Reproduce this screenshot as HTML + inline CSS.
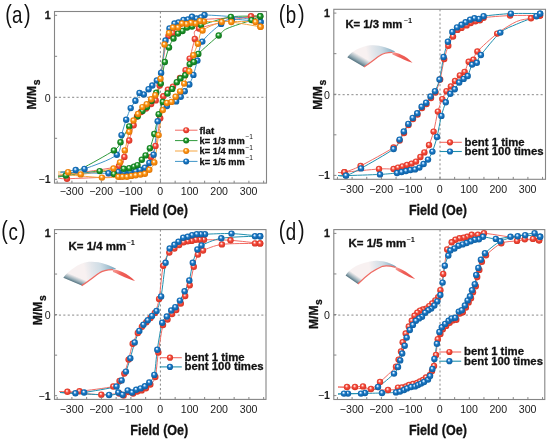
<!DOCTYPE html><html><head><meta charset="utf-8"><style>html,body{margin:0;padding:0;background:#fff;width:550px;height:441px;overflow:hidden}svg{display:block;filter:blur(0.5px)}text{font-family:"Liberation Sans", sans-serif}text[font-weight=bold],g[font-weight=bold] text{stroke:#111;stroke-width:0.3px}</style></head><body>
<svg width="550" height="441" viewBox="0 0 550 441">
<defs>
<radialGradient id="g_red" cx="0.5" cy="0.5" r="0.55" fx="0.4" fy="0.32"><stop offset="0" stop-color="#ffffff"/><stop offset="0.16" stop-color="#ffc8c0"/><stop offset="0.45" stop-color="#f64a3c"/><stop offset="1" stop-color="#d0301f"/></radialGradient>
<radialGradient id="g_green" cx="0.5" cy="0.5" r="0.55" fx="0.4" fy="0.32"><stop offset="0" stop-color="#ffffff"/><stop offset="0.16" stop-color="#c8f0c8"/><stop offset="0.45" stop-color="#1f9a2c"/><stop offset="1" stop-color="#0c6a18"/></radialGradient>
<radialGradient id="g_orange" cx="0.5" cy="0.5" r="0.55" fx="0.4" fy="0.32"><stop offset="0" stop-color="#ffffff"/><stop offset="0.16" stop-color="#ffe8b8"/><stop offset="0.45" stop-color="#ff9414"/><stop offset="1" stop-color="#d86e00"/></radialGradient>
<radialGradient id="g_blue" cx="0.5" cy="0.5" r="0.55" fx="0.4" fy="0.32"><stop offset="0" stop-color="#ffffff"/><stop offset="0.16" stop-color="#bfe0ff"/><stop offset="0.45" stop-color="#1a78c4"/><stop offset="1" stop-color="#0b5a9c"/></radialGradient>
<radialGradient id="g_teal" cx="0.5" cy="0.5" r="0.55" fx="0.4" fy="0.32"><stop offset="0" stop-color="#ffffff"/><stop offset="0.16" stop-color="#bfe0ff"/><stop offset="0.45" stop-color="#1a78c4"/><stop offset="1" stop-color="#0b5a9c"/></radialGradient>
<linearGradient id="rib_top" gradientUnits="userSpaceOnUse" x1="8.6" y1="17" x2="12.6" y2="10.1"><stop offset="0" stop-color="#557380"/><stop offset="0.35" stop-color="#93aab4"/><stop offset="1" stop-color="#f8f1f1"/></linearGradient><linearGradient id="rib_blue" gradientUnits="userSpaceOnUse" x1="20" y1="10" x2="46" y2="5"><stop offset="0" stop-color="#a9c9da" stop-opacity="0"/><stop offset="0.55" stop-color="#b5d0de" stop-opacity="0.6"/><stop offset="1" stop-color="#7fabc2" stop-opacity="1"/></linearGradient>
<linearGradient id="rib_red" gradientUnits="userSpaceOnUse" x1="45" y1="7" x2="65" y2="17"><stop offset="0" stop-color="#f7a39c"/><stop offset="0.4" stop-color="#ef5f58"/><stop offset="1" stop-color="#e9504a"/></linearGradient>
<linearGradient id="rib_top_d" gradientUnits="userSpaceOnUse" x1="6.25" y1="19.25" x2="9.9" y2="14"><stop offset="0" stop-color="#557380"/><stop offset="0.35" stop-color="#93aab4"/><stop offset="1" stop-color="#f8f1f1"/></linearGradient><linearGradient id="rib_blue_d" gradientUnits="userSpaceOnUse" x1="24" y1="8" x2="48" y2="4"><stop offset="0" stop-color="#a9c9da" stop-opacity="0"/><stop offset="0.55" stop-color="#b5d0de" stop-opacity="0.6"/><stop offset="1" stop-color="#7fabc2" stop-opacity="1"/></linearGradient><linearGradient id="rib_red_d" gradientUnits="userSpaceOnUse" x1="50" y1="6" x2="70" y2="18"><stop offset="0" stop-color="#f7a39c"/><stop offset="0.4" stop-color="#ef5f58"/><stop offset="1" stop-color="#e9504a"/></linearGradient>
<linearGradient id="rib_top_c" gradientUnits="userSpaceOnUse" x1="8.65" y1="18.35" x2="10.9" y2="13"><stop offset="0" stop-color="#557380"/><stop offset="0.35" stop-color="#93aab4"/><stop offset="1" stop-color="#f8f1f1"/></linearGradient>
</defs>
<rect width="550" height="441" fill="#fff"/>
<line x1="54.5" y1="97.3" x2="266.5" y2="97.3" stroke="#7c7c7c" stroke-width="0.9" stroke-dasharray="2.1,2.3"/>
<line x1="160.4" y1="11.5" x2="160.4" y2="183.1" stroke="#7c7c7c" stroke-width="0.9" stroke-dasharray="2.1,2.3"/>
<path d="M58,178 C59.35,178.1 59.2,178.85 67,178.7 C74.8,178.55 102.05,177.33 110,177 C117.95,176.67 117,176.72 120,176.5 C123,176.28 127,175.95 130,175.5 C133,175.05 137.6,174.62 140,173.5 C142.4,172.38 144.35,170.49 146,168 C147.65,165.51 149.57,160.2 151,156.9 C152.43,153.6 154.12,151.79 155.5,146 C156.88,140.21 159.03,125.75 160.2,118.3 C161.37,110.84 162.15,100.59 163.3,96.3 C164.46,92.01 166.44,91.16 167.9,89.7 C169.36,88.25 171.19,88.35 173,86.6 C174.81,84.84 178.11,80.46 180,78 C181.89,75.54 184.14,73.11 185.6,70.2 C187.06,67.29 188.32,63.28 189.7,58.6 C191.08,53.92 193.41,43.52 194.8,39 C196.2,34.48 190.57,31.91 199,28.5 C207.43,25.09 241.85,18.03 251,16.3 C260.15,14.58 258.65,16.89 260,17" fill="none" stroke="#f26b63" stroke-width="1.0"/>
<path d="M260,17 C255.5,17.15 240.5,17.48 230,18 C219.5,18.52 197.5,19.6 190,20.5 C182.5,21.4 182.55,22.12 180,24 C177.45,25.88 174.72,31.2 173,33 C171.28,34.8 169.85,32.7 168.5,36 C167.15,39.3 165.32,47.56 164,55 C162.68,62.44 160.94,78.79 159.7,85.6 C158.45,92.41 156.99,97.64 155.7,100.4 C154.41,103.16 152.56,102.78 151.1,104 C149.64,105.22 147.51,107.3 146,108.5 C144.49,109.7 142.35,110.8 141,112 C139.65,113.2 138.11,114.5 137,116.5 C135.89,118.5 134.77,121.7 133.6,125.3 C132.43,128.9 130.58,135.76 129.2,140.5 C127.82,145.24 125.93,153.08 124.4,156.9 C122.87,160.72 124.91,163.74 119,166 C113.09,168.26 94.15,170.5 85,172 C75.85,173.5 62.05,175.4 58,176" fill="none" stroke="#f26b63" stroke-width="1.0"/>
<path d="M58,177 C64.25,176.12 91.31,171.55 99.7,171.1 C108.09,170.65 110.3,174.34 113.9,174 C117.5,173.66 121.41,169.67 123.7,168.8 C126,167.93 127.65,168.53 129.2,168.2 C130.74,167.87 132.75,167.06 134,166.6 C135.25,166.13 136.33,166.13 137.5,165.1 C138.67,164.06 140.59,161.15 141.8,159.7 C143.02,158.25 144.38,157.12 145.6,155.4 C146.81,153.68 148.59,151.41 149.9,148.2 C151.21,144.99 152.98,139.1 154.3,134 C155.62,128.9 157.42,119.02 158.7,114.2 C159.97,109.39 161.48,105.01 162.8,101.9 C164.12,98.8 166.09,95.45 167.5,93.5 C168.91,91.55 170.8,90.59 172.2,88.9 C173.59,87.21 175.56,83.78 176.8,82.2 C178.05,80.62 179.24,79.44 180.5,78.4 C181.76,77.37 183.82,77.44 185.2,75.3 C186.58,73.16 188.41,66.09 189.7,64.1 C190.99,62.1 192.51,63.53 193.8,62 C195.09,60.47 194.57,57.88 198.3,53.9 C202.03,49.92 214.39,39.3 218.7,35.5 C223,31.71 222.06,30.91 227,28.6 C231.94,26.29 246.62,21.95 251.6,20.1 C256.58,18.26 258.91,16.87 260.2,16.3" fill="none" stroke="#2f9a3c" stroke-width="1.0"/>
<path d="M260.2,16.3 C255.8,16.39 239.78,15.59 230.9,16.9 C222.02,18.2 206.84,23.56 201,25 C195.16,26.44 194.1,26.12 192,26.5 C189.9,26.88 188.43,26.82 187,27.5 C185.57,28.18 183.85,30.1 182.5,31 C181.15,31.9 179.35,32.38 178,33.5 C176.65,34.62 174.85,36.4 173.5,38.5 C172.15,40.6 170.31,43.98 169,47.5 C167.69,51.02 166.03,56.59 164.8,62 C163.57,67.41 162.09,78.98 160.8,83.6 C159.51,88.22 157.59,90.19 156.2,92.8 C154.8,95.41 152.88,98.87 151.5,101 C150.12,103.13 148.35,105.5 147,107 C145.65,108.5 143.9,109.61 142.5,111 C141.1,112.39 139.69,113.99 137.7,116.3 C135.7,118.61 131.78,122.5 129.2,126.4 C126.62,130.3 122.8,138.7 120.5,142.3 C118.2,145.9 119.8,146.41 113.9,150.4 C108.01,154.39 88.4,165.14 81.2,168.9 C74,172.66 69.38,174.44 65.9,175.5 C62.42,176.56 59.19,175.93 58,176" fill="none" stroke="#2f9a3c" stroke-width="1.0"/>
<path d="M58,174 C64.59,174.54 92.86,177.18 101.9,177.6 C110.95,178.02 115.19,176.92 118.3,176.8 C121.41,176.68 121.29,176.8 122.6,176.8 C123.91,176.8 125.68,176.94 127,176.8 C128.32,176.67 130.09,176.12 131.4,175.9 C132.71,175.68 134.33,175.5 135.7,175.3 C137.06,175.11 139.12,174.84 140.5,174.6 C141.88,174.36 143.58,174.42 144.9,173.7 C146.22,172.98 147.89,171.5 149.3,169.8 C150.71,168.11 152.91,167.61 154.3,162.4 C155.7,157.19 157.32,142.94 158.6,135.1 C159.88,127.25 161.56,114.91 162.8,110.1 C164.05,105.28 165.59,104.23 166.9,103 C168.21,101.77 170.19,102.83 171.5,101.9 C172.81,100.97 174.31,98.38 175.6,96.8 C176.89,95.22 178.81,93.38 180.1,91.4 C181.39,89.42 182.82,86.63 184.2,83.6 C185.58,80.57 187.92,75.45 189.3,71.2 C190.68,66.95 192.11,59.42 193.4,55.3 C194.69,51.17 196.53,47.42 197.9,43.7 C199.27,39.98 198.93,33.76 202.5,30.5 C206.07,27.25 217.38,23.27 221.7,22 C226.02,20.73 225.48,21.28 231.3,22 C237.12,22.72 256.12,26.08 260.5,26.8" fill="none" stroke="#f5a540" stroke-width="1.0"/>
<path d="M260.5,26.8 C259.75,26.08 263.98,22.8 255.5,22 C247.03,21.2 212.32,21.65 204,21.5 C195.68,21.35 201.28,20.7 200,21 C198.72,21.3 196.85,23.23 195.5,23.5 C194.15,23.77 192.35,22.73 191,22.8 C189.65,22.88 187.85,23.89 186.5,24 C185.15,24.11 183.28,22.98 182,23.5 C180.72,24.02 179.35,26.9 178,27.5 C176.65,28.1 174.35,26.68 173,27.5 C171.65,28.32 170.28,30.45 169,33 C167.72,35.55 165.78,37.64 164.5,44.5 C163.22,51.36 161.88,71.09 160.5,78.7 C159.12,86.31 156.71,92.11 155.3,95.2 C153.89,98.29 152.39,97.95 151.1,99.3 C149.81,100.65 148,103.03 146.7,104.2 C145.39,105.37 143.71,105.63 142.4,107.1 C141.09,108.57 139.34,111.99 138,114 C136.66,116.01 134.82,117.83 133.5,120.5 C132.18,123.17 130.5,127.32 129.2,131.8 C127.89,136.29 126.18,145.81 124.8,150.4 C123.42,154.99 121.69,159.69 120,162.4 C118.31,165.12 119.39,166.7 113.5,168.5 C107.61,170.3 87.51,173.84 80.7,174.4 C73.89,174.96 71.5,172.56 68.1,172.2 C64.69,171.84 59.52,172.03 58,172" fill="none" stroke="#f5a540" stroke-width="1.0"/>
<path d="M60.5,172.2 C67.7,172.36 99.83,173.33 108.5,173.3 C117.17,173.27 115.97,172.19 118.3,172 C120.62,171.81 122.25,172.05 124,172 C125.75,171.95 128.25,171.85 130,171.7 C131.75,171.55 134.19,171.28 135.7,171 C137.21,170.72 138.72,170.3 140.1,169.8 C141.48,169.31 143.52,168.73 144.9,167.7 C146.28,166.66 148,164.85 149.3,162.9 C150.61,160.95 152.34,160.94 153.6,154.7 C154.86,148.46 156.51,128 157.7,121.3 C158.88,114.59 160.12,112.3 161.5,110 C162.88,107.7 164.71,107.29 166.9,106 C169.09,104.71 174.03,102.78 176.1,101.4 C178.17,100.02 179.41,98.33 180.7,96.8 C181.99,95.27 183.41,93.05 184.7,91.2 C185.99,89.36 188,86.94 189.3,84.5 C190.61,82.06 192.19,78.48 193.4,74.9 C194.62,71.32 196.06,65.59 197.4,60.6 C198.74,55.61 198.75,47.11 202.3,41.6 C205.86,36.09 216.66,27.26 221.1,23.9 C225.54,20.54 225.99,19.48 231.9,19.2 C237.81,18.91 256.21,21.58 260.5,22" fill="none" stroke="#3f95c8" stroke-width="1.0"/>
<path d="M260.5,22 C257.43,21.32 248.4,18.55 240,17.5 C231.6,16.45 210.35,15 204.5,15 C198.65,15 202.2,16.98 201,17.5 C199.8,18.02 197.85,18.61 196.5,18.5 C195.15,18.39 193.28,16.65 192,16.8 C190.72,16.95 189.28,19.02 188,19.5 C186.72,19.98 184.93,19.55 183.5,20 C182.07,20.45 179.85,21.98 178.5,22.5 C177.15,23.02 175.85,22.6 174.5,23.5 C173.15,24.4 170.85,25.95 169.5,28.5 C168.15,31.05 166.76,33.84 165.5,40.5 C164.24,47.16 162.39,66.9 161.1,72.9 C159.81,78.9 158.22,78.61 156.9,80.5 C155.58,82.39 153.55,84.19 152.3,85.5 C151.06,86.81 149.88,87.87 148.6,89.2 C147.32,90.53 145.17,93.83 143.8,94.4 C142.44,94.97 140.76,92.04 139.5,93 C138.24,93.96 136.72,98.53 135.4,100.8 C134.08,103.06 132.08,105.26 130.7,108.1 C129.32,110.94 127.58,115.65 126.2,119.7 C124.82,123.75 122.91,129.85 121.5,135.1 C120.09,140.35 122.35,149.63 116.8,154.7 C111.25,159.77 90.66,166.61 84.5,168.9 C78.34,171.19 79.3,169.5 75.7,170 C72.1,170.5 62.78,171.87 60.5,172.2" fill="none" stroke="#3f95c8" stroke-width="1.0"/>
<circle cx="67" cy="178.7" r="3.2" fill="url(#g_red)"/>
<circle cx="120" cy="176.5" r="3.2" fill="url(#g_red)"/>
<circle cx="130" cy="175.5" r="3.2" fill="url(#g_red)"/>
<circle cx="140" cy="173.5" r="3.2" fill="url(#g_red)"/>
<circle cx="146" cy="168" r="3.2" fill="url(#g_red)"/>
<circle cx="151" cy="156.9" r="3.2" fill="url(#g_red)"/>
<circle cx="155.5" cy="146" r="3.2" fill="url(#g_red)"/>
<circle cx="160.2" cy="118.3" r="3.2" fill="url(#g_red)"/>
<circle cx="163.3" cy="96.3" r="3.2" fill="url(#g_red)"/>
<circle cx="167.9" cy="89.7" r="3.2" fill="url(#g_red)"/>
<circle cx="173" cy="86.6" r="3.2" fill="url(#g_red)"/>
<circle cx="180" cy="78" r="3.2" fill="url(#g_red)"/>
<circle cx="185.6" cy="70.2" r="3.2" fill="url(#g_red)"/>
<circle cx="189.7" cy="58.6" r="3.2" fill="url(#g_red)"/>
<circle cx="194.8" cy="39" r="3.2" fill="url(#g_red)"/>
<circle cx="199" cy="28.5" r="3.2" fill="url(#g_red)"/>
<circle cx="251" cy="16.3" r="3.2" fill="url(#g_red)"/>
<circle cx="190" cy="20.5" r="3.2" fill="url(#g_red)"/>
<circle cx="180" cy="24" r="3.2" fill="url(#g_red)"/>
<circle cx="173" cy="33" r="3.2" fill="url(#g_red)"/>
<circle cx="168.5" cy="36" r="3.2" fill="url(#g_red)"/>
<circle cx="159.7" cy="85.6" r="3.2" fill="url(#g_red)"/>
<circle cx="155.7" cy="100.4" r="3.2" fill="url(#g_red)"/>
<circle cx="151.1" cy="104" r="3.2" fill="url(#g_red)"/>
<circle cx="146" cy="108.5" r="3.2" fill="url(#g_red)"/>
<circle cx="141" cy="112" r="3.2" fill="url(#g_red)"/>
<circle cx="137" cy="116.5" r="3.2" fill="url(#g_red)"/>
<circle cx="133.6" cy="125.3" r="3.2" fill="url(#g_red)"/>
<circle cx="129.2" cy="140.5" r="3.2" fill="url(#g_red)"/>
<circle cx="124.4" cy="156.9" r="3.2" fill="url(#g_red)"/>
<circle cx="119" cy="166" r="3.2" fill="url(#g_red)"/>
<circle cx="108.5" cy="173.3" r="3.2" fill="url(#g_blue)"/>
<circle cx="118.3" cy="172" r="3.2" fill="url(#g_blue)"/>
<circle cx="124" cy="172" r="3.2" fill="url(#g_blue)"/>
<circle cx="130" cy="171.7" r="3.2" fill="url(#g_blue)"/>
<circle cx="135.7" cy="171" r="3.2" fill="url(#g_blue)"/>
<circle cx="140.1" cy="169.8" r="3.2" fill="url(#g_blue)"/>
<circle cx="144.9" cy="167.7" r="3.2" fill="url(#g_blue)"/>
<circle cx="149.3" cy="162.9" r="3.2" fill="url(#g_blue)"/>
<circle cx="153.6" cy="154.7" r="3.2" fill="url(#g_blue)"/>
<circle cx="157.7" cy="121.3" r="3.2" fill="url(#g_blue)"/>
<circle cx="166.9" cy="106" r="3.2" fill="url(#g_blue)"/>
<circle cx="176.1" cy="101.4" r="3.2" fill="url(#g_blue)"/>
<circle cx="180.7" cy="96.8" r="3.2" fill="url(#g_blue)"/>
<circle cx="184.7" cy="91.2" r="3.2" fill="url(#g_blue)"/>
<circle cx="189.3" cy="84.5" r="3.2" fill="url(#g_blue)"/>
<circle cx="193.4" cy="74.9" r="3.2" fill="url(#g_blue)"/>
<circle cx="197.4" cy="60.6" r="3.2" fill="url(#g_blue)"/>
<circle cx="202.3" cy="41.6" r="3.2" fill="url(#g_blue)"/>
<circle cx="221.1" cy="23.9" r="3.2" fill="url(#g_blue)"/>
<circle cx="231.9" cy="19.2" r="3.2" fill="url(#g_blue)"/>
<circle cx="260.5" cy="22" r="3.2" fill="url(#g_blue)"/>
<circle cx="260.5" cy="22" r="3.2" fill="url(#g_blue)"/>
<circle cx="204.5" cy="15" r="3.2" fill="url(#g_blue)"/>
<circle cx="201" cy="17.5" r="3.2" fill="url(#g_blue)"/>
<circle cx="196.5" cy="18.5" r="3.2" fill="url(#g_blue)"/>
<circle cx="192" cy="16.8" r="3.2" fill="url(#g_blue)"/>
<circle cx="188" cy="19.5" r="3.2" fill="url(#g_blue)"/>
<circle cx="183.5" cy="20" r="3.2" fill="url(#g_blue)"/>
<circle cx="178.5" cy="22.5" r="3.2" fill="url(#g_blue)"/>
<circle cx="174.5" cy="23.5" r="3.2" fill="url(#g_blue)"/>
<circle cx="169.5" cy="28.5" r="3.2" fill="url(#g_blue)"/>
<circle cx="165.5" cy="40.5" r="3.2" fill="url(#g_blue)"/>
<circle cx="161.1" cy="72.9" r="3.2" fill="url(#g_blue)"/>
<circle cx="156.9" cy="80.5" r="3.2" fill="url(#g_blue)"/>
<circle cx="152.3" cy="85.5" r="3.2" fill="url(#g_blue)"/>
<circle cx="148.6" cy="89.2" r="3.2" fill="url(#g_blue)"/>
<circle cx="143.8" cy="94.4" r="3.2" fill="url(#g_blue)"/>
<circle cx="139.5" cy="93" r="3.2" fill="url(#g_blue)"/>
<circle cx="135.4" cy="100.8" r="3.2" fill="url(#g_blue)"/>
<circle cx="130.7" cy="108.1" r="3.2" fill="url(#g_blue)"/>
<circle cx="126.2" cy="119.7" r="3.2" fill="url(#g_blue)"/>
<circle cx="121.5" cy="135.1" r="3.2" fill="url(#g_blue)"/>
<circle cx="116.8" cy="154.7" r="3.2" fill="url(#g_blue)"/>
<circle cx="84.5" cy="168.9" r="3.2" fill="url(#g_blue)"/>
<circle cx="75.7" cy="170" r="3.2" fill="url(#g_blue)"/>
<circle cx="99.7" cy="171.1" r="3.2" fill="url(#g_green)"/>
<circle cx="113.9" cy="174" r="3.2" fill="url(#g_green)"/>
<circle cx="123.7" cy="168.8" r="3.2" fill="url(#g_green)"/>
<circle cx="129.2" cy="168.2" r="3.2" fill="url(#g_green)"/>
<circle cx="134" cy="166.6" r="3.2" fill="url(#g_green)"/>
<circle cx="137.5" cy="165.1" r="3.2" fill="url(#g_green)"/>
<circle cx="141.8" cy="159.7" r="3.2" fill="url(#g_green)"/>
<circle cx="145.6" cy="155.4" r="3.2" fill="url(#g_green)"/>
<circle cx="149.9" cy="148.2" r="3.2" fill="url(#g_green)"/>
<circle cx="154.3" cy="134" r="3.2" fill="url(#g_green)"/>
<circle cx="158.7" cy="114.2" r="3.2" fill="url(#g_green)"/>
<circle cx="162.8" cy="101.9" r="3.2" fill="url(#g_green)"/>
<circle cx="167.5" cy="93.5" r="3.2" fill="url(#g_green)"/>
<circle cx="172.2" cy="88.9" r="3.2" fill="url(#g_green)"/>
<circle cx="176.8" cy="82.2" r="3.2" fill="url(#g_green)"/>
<circle cx="180.5" cy="78.4" r="3.2" fill="url(#g_green)"/>
<circle cx="185.2" cy="75.3" r="3.2" fill="url(#g_green)"/>
<circle cx="189.7" cy="64.1" r="3.2" fill="url(#g_green)"/>
<circle cx="193.8" cy="62" r="3.2" fill="url(#g_green)"/>
<circle cx="198.3" cy="53.9" r="3.2" fill="url(#g_green)"/>
<circle cx="218.7" cy="35.5" r="3.2" fill="url(#g_green)"/>
<circle cx="251.6" cy="20.1" r="3.2" fill="url(#g_green)"/>
<circle cx="260.2" cy="16.3" r="3.2" fill="url(#g_green)"/>
<circle cx="260.2" cy="16.3" r="3.2" fill="url(#g_green)"/>
<circle cx="230.9" cy="16.9" r="3.2" fill="url(#g_green)"/>
<circle cx="201" cy="25" r="3.2" fill="url(#g_green)"/>
<circle cx="192" cy="26.5" r="3.2" fill="url(#g_green)"/>
<circle cx="187" cy="27.5" r="3.2" fill="url(#g_green)"/>
<circle cx="182.5" cy="31" r="3.2" fill="url(#g_green)"/>
<circle cx="178" cy="33.5" r="3.2" fill="url(#g_green)"/>
<circle cx="173.5" cy="38.5" r="3.2" fill="url(#g_green)"/>
<circle cx="169" cy="47.5" r="3.2" fill="url(#g_green)"/>
<circle cx="164.8" cy="62" r="3.2" fill="url(#g_green)"/>
<circle cx="160.8" cy="83.6" r="3.2" fill="url(#g_green)"/>
<circle cx="156.2" cy="92.8" r="3.2" fill="url(#g_green)"/>
<circle cx="151.5" cy="101" r="3.2" fill="url(#g_green)"/>
<circle cx="147" cy="107" r="3.2" fill="url(#g_green)"/>
<circle cx="142.5" cy="111" r="3.2" fill="url(#g_green)"/>
<circle cx="137.7" cy="116.3" r="3.2" fill="url(#g_green)"/>
<circle cx="129.2" cy="126.4" r="3.2" fill="url(#g_green)"/>
<circle cx="120.5" cy="142.3" r="3.2" fill="url(#g_green)"/>
<circle cx="113.9" cy="150.4" r="3.2" fill="url(#g_green)"/>
<circle cx="65.9" cy="175.5" r="3.2" fill="url(#g_green)"/>
<circle cx="101.9" cy="177.6" r="3.2" fill="url(#g_orange)"/>
<circle cx="118.3" cy="176.8" r="3.2" fill="url(#g_orange)"/>
<circle cx="122.6" cy="176.8" r="3.2" fill="url(#g_orange)"/>
<circle cx="127" cy="176.8" r="3.2" fill="url(#g_orange)"/>
<circle cx="131.4" cy="175.9" r="3.2" fill="url(#g_orange)"/>
<circle cx="135.7" cy="175.3" r="3.2" fill="url(#g_orange)"/>
<circle cx="140.5" cy="174.6" r="3.2" fill="url(#g_orange)"/>
<circle cx="144.9" cy="173.7" r="3.2" fill="url(#g_orange)"/>
<circle cx="149.3" cy="169.8" r="3.2" fill="url(#g_orange)"/>
<circle cx="154.3" cy="162.4" r="3.2" fill="url(#g_orange)"/>
<circle cx="158.6" cy="135.1" r="3.2" fill="url(#g_orange)"/>
<circle cx="162.8" cy="110.1" r="3.2" fill="url(#g_orange)"/>
<circle cx="166.9" cy="103" r="3.2" fill="url(#g_orange)"/>
<circle cx="171.5" cy="101.9" r="3.2" fill="url(#g_orange)"/>
<circle cx="175.6" cy="96.8" r="3.2" fill="url(#g_orange)"/>
<circle cx="180.1" cy="91.4" r="3.2" fill="url(#g_orange)"/>
<circle cx="184.2" cy="83.6" r="3.2" fill="url(#g_orange)"/>
<circle cx="189.3" cy="71.2" r="3.2" fill="url(#g_orange)"/>
<circle cx="193.4" cy="55.3" r="3.2" fill="url(#g_orange)"/>
<circle cx="197.9" cy="43.7" r="3.2" fill="url(#g_orange)"/>
<circle cx="202.5" cy="30.5" r="3.2" fill="url(#g_orange)"/>
<circle cx="221.7" cy="22" r="3.2" fill="url(#g_orange)"/>
<circle cx="231.3" cy="22" r="3.2" fill="url(#g_orange)"/>
<circle cx="260.5" cy="26.8" r="3.2" fill="url(#g_orange)"/>
<circle cx="260.5" cy="26.8" r="3.2" fill="url(#g_orange)"/>
<circle cx="255.5" cy="22" r="3.2" fill="url(#g_orange)"/>
<circle cx="204" cy="21.5" r="3.2" fill="url(#g_orange)"/>
<circle cx="200" cy="21" r="3.2" fill="url(#g_orange)"/>
<circle cx="195.5" cy="23.5" r="3.2" fill="url(#g_orange)"/>
<circle cx="191" cy="22.8" r="3.2" fill="url(#g_orange)"/>
<circle cx="186.5" cy="24" r="3.2" fill="url(#g_orange)"/>
<circle cx="182" cy="23.5" r="3.2" fill="url(#g_orange)"/>
<circle cx="178" cy="27.5" r="3.2" fill="url(#g_orange)"/>
<circle cx="173" cy="27.5" r="3.2" fill="url(#g_orange)"/>
<circle cx="169" cy="33" r="3.2" fill="url(#g_orange)"/>
<circle cx="164.5" cy="44.5" r="3.2" fill="url(#g_orange)"/>
<circle cx="160.5" cy="78.7" r="3.2" fill="url(#g_orange)"/>
<circle cx="155.3" cy="95.2" r="3.2" fill="url(#g_orange)"/>
<circle cx="151.1" cy="99.3" r="3.2" fill="url(#g_orange)"/>
<circle cx="146.7" cy="104.2" r="3.2" fill="url(#g_orange)"/>
<circle cx="142.4" cy="107.1" r="3.2" fill="url(#g_orange)"/>
<circle cx="138" cy="114" r="3.2" fill="url(#g_orange)"/>
<circle cx="133.5" cy="120.5" r="3.2" fill="url(#g_orange)"/>
<circle cx="129.2" cy="131.8" r="3.2" fill="url(#g_orange)"/>
<circle cx="124.8" cy="150.4" r="3.2" fill="url(#g_orange)"/>
<circle cx="120" cy="162.4" r="3.2" fill="url(#g_orange)"/>
<circle cx="113.5" cy="168.5" r="3.2" fill="url(#g_orange)"/>
<circle cx="80.7" cy="174.4" r="3.2" fill="url(#g_orange)"/>
<circle cx="68.1" cy="172.2" r="3.2" fill="url(#g_orange)"/>
<rect x="54.5" y="11.5" width="212" height="171.6" fill="none" stroke="#858585" stroke-width="1.1"/>
<path d="M57.15,183.1 v-2.4 M71.9,183.1 v-2.4 M86.65,183.1 v-2.4 M101.4,183.1 v-2.4 M116.15,183.1 v-2.4 M130.9,183.1 v-2.4 M145.65,183.1 v-2.4 M160.4,183.1 v-2.4 M175.15,183.1 v-2.4 M189.9,183.1 v-2.4 M204.65,183.1 v-2.4 M219.4,183.1 v-2.4 M234.15,183.1 v-2.4 M248.9,183.1 v-2.4 M263.65,183.1 v-2.4 M54.5,179.3 h2.6 M54.5,138.3 h2.6 M54.5,97.3 h2.6 M54.5,56.3 h2.6 M54.5,15.3 h2.6" stroke="#858585" stroke-width="1"/>
<g font-size="10.6" fill="#1a1a1a"><text x="71.6" y="195.3" text-anchor="middle">−300</text><text x="101.1" y="195.3" text-anchor="middle">−200</text><text x="130.6" y="195.3" text-anchor="middle">−100</text><text x="160.1" y="195.3" text-anchor="middle">0</text><text x="189.6" y="195.3" text-anchor="middle">100</text><text x="219.1" y="195.3" text-anchor="middle">200</text><text x="248.6" y="195.3" text-anchor="middle">300</text><text x="50.7" y="19.1" text-anchor="end" font-weight="bold">1</text><text x="50.7" y="101.6" text-anchor="end" font-weight="normal">0</text><text x="50.7" y="183.1" text-anchor="end" font-weight="normal">−<tspan font-weight="bold">1</tspan></text></g>
<text x="129.9" y="214.5" font-size="14.4" font-weight="bold" fill="#111" textLength="58" lengthAdjust="spacingAndGlyphs">Field (Oe)</text>
<g transform="translate(36.2,97.7) rotate(-90)" font-weight="bold" fill="#111"><text x="0" y="0" text-anchor="middle" font-size="13.4" textLength="23.6" lengthAdjust="spacingAndGlyphs">M/M</text><text x="12.4" y="3.9" font-size="10.4">s</text></g>
<line x1="175" y1="130.2" x2="197.5" y2="130.2" stroke="#f26b63" stroke-width="1"/>
<circle cx="186.2" cy="130.2" r="3" fill="url(#g_red)"/>
<text x="199.6" y="133.5" font-size="9.4" font-weight="bold" fill="#111" textLength="14.6" lengthAdjust="spacingAndGlyphs">flat</text>
<line x1="175" y1="140.6" x2="197.5" y2="140.6" stroke="#2f9a3c" stroke-width="1"/>
<circle cx="186.2" cy="140.6" r="3" fill="url(#g_green)"/>
<text x="199.6" y="143.9" font-size="9.6" font-weight="bold" fill="#111" textLength="45.2" lengthAdjust="spacingAndGlyphs">k= 1/3 mm</text>
<text x="245.4" y="139.2" font-size="6.6" fill="#111">−1</text>
<line x1="175" y1="151.0" x2="197.5" y2="151.0" stroke="#f5a540" stroke-width="1"/>
<circle cx="186.2" cy="151.0" r="3" fill="url(#g_orange)"/>
<text x="199.6" y="154.3" font-size="9.6" font-weight="bold" fill="#111" textLength="45.2" lengthAdjust="spacingAndGlyphs">k= 1/4 mm</text>
<text x="245.4" y="149.6" font-size="6.6" fill="#111">−1</text>
<line x1="175" y1="161.4" x2="197.5" y2="161.4" stroke="#3f95c8" stroke-width="1"/>
<circle cx="186.2" cy="161.4" r="3" fill="url(#g_blue)"/>
<text x="199.6" y="164.7" font-size="9.6" font-weight="bold" fill="#111" textLength="45.2" lengthAdjust="spacingAndGlyphs">k= 1/5 mm</text>
<text x="245.4" y="160" font-size="6.6" fill="#111">−1</text>
<text transform="translate(8.6,22.65) scale(0.78,1)" text-anchor="middle" font-size="25.2" fill="#111">(</text>
<text transform="translate(17.3,22.9) scale(0.78,1)" text-anchor="middle" font-size="24" fill="#111">a</text>
<text transform="translate(27.2,22.65) scale(0.78,1)" text-anchor="middle" font-size="25.2" fill="#111">)</text>
<line x1="333.8" y1="94.7" x2="545.5" y2="94.7" stroke="#7c7c7c" stroke-width="0.9" stroke-dasharray="2.1,2.3"/>
<line x1="440" y1="9.3" x2="440" y2="179.3" stroke="#7c7c7c" stroke-width="0.9" stroke-dasharray="2.1,2.3"/>
<path d="M338,172.5 C338.96,172.45 338.25,172.72 344.4,172.2 C350.55,171.67 371.62,169.48 379,169 C386.38,168.52 390.75,169.21 393.6,169 C396.45,168.79 396.68,167.99 398,167.6 C399.32,167.21 401.05,166.79 402.4,166.4 C403.75,166.01 405.62,165.42 407,165 C408.38,164.58 410.25,164.11 411.6,163.6 C412.95,163.09 414.68,162.59 416,161.6 C417.32,160.61 419.14,158.38 420.4,157 C421.66,155.62 423.11,154.2 424.4,152.4 C425.69,150.6 427.62,148.12 429,145 C430.38,141.88 432.27,136.61 433.6,131.6 C434.94,126.59 436.59,116.47 437.9,111.6 C439.2,106.72 441.01,102.16 442.3,99.1 C443.59,96.04 445.21,93.11 446.5,91.2 C447.79,89.3 449.62,87.93 450.9,86.4 C452.17,84.87 453.65,82.65 455,81 C456.35,79.35 458.46,76.77 459.9,75.4 C461.34,74.04 463.28,73.96 464.6,71.9 C465.92,69.84 467.38,63.53 468.7,61.7 C470.02,59.87 472.09,61.23 473.4,59.7 C474.7,58.17 473.83,55.41 477.4,51.5 C480.97,47.59 491.32,38.1 497.2,33.6 C503.08,29.1 511.53,23.8 516.6,21.5 C521.67,19.2 527.49,19.2 531,18.3 C534.51,17.4 538.65,15.92 540,15.5" fill="none" stroke="#f26b63" stroke-width="1.0"/>
<path d="M540,15.5 C535.51,15.52 518.56,15.27 510.1,15.6 C501.64,15.93 488.13,16.99 483.6,17.7 C479.07,18.41 481.13,19.76 479.9,20.3 C478.67,20.84 476.78,20.89 475.4,21.3 C474.02,21.71 472.02,22.39 470.7,23 C469.38,23.61 467.98,24.66 466.6,25.4 C465.22,26.13 462.88,27.22 461.5,27.9 C460.12,28.57 458.67,28.59 457.4,29.9 C456.12,31.2 454.37,34.22 453,36.6 C451.63,38.98 449.62,42.42 448.3,45.8 C446.98,49.17 445.43,54.05 444.2,59.1 C442.97,64.16 441.41,74.49 440.1,79.5 C438.8,84.51 436.87,89.72 435.5,92.5 C434.13,95.28 432.35,96.28 431,98 C429.65,99.72 427.85,102.5 426.5,104 C425.15,105.5 423.35,106.42 422,108 C420.65,109.58 418.85,112.85 417.5,114.5 C416.15,116.15 414.35,117.42 413,119 C411.65,120.58 409.85,122.9 408.5,125 C407.15,127.1 405.33,130.66 404,133 C402.67,135.34 401.16,138.42 399.6,140.6 C398.04,142.78 399.45,143.7 393.6,147.5 C387.75,151.3 367.98,162.19 360.6,165.9 C353.22,169.61 347.79,171.21 344.4,172.2 C341.01,173.19 338.96,172.45 338,172.5" fill="none" stroke="#f26b63" stroke-width="1.0"/>
<path d="M338,175.5 C339.2,175.51 339.7,175.76 346,175.6 C352.3,175.44 372.35,174.79 380,174.4 C387.65,174.01 393.76,173.36 397,173 C400.24,172.64 400.25,172.3 401.6,172 C402.95,171.7 404.68,171.3 406,171 C407.32,170.7 409.05,170.24 410.4,170 C411.75,169.76 413.65,169.76 415,169.4 C416.35,169.04 418.11,168.41 419.4,167.6 C420.69,166.79 422.31,165.2 423.6,164 C424.89,162.8 426.68,161.46 428,159.6 C429.32,157.74 431.05,154.99 432.4,151.6 C433.75,148.21 435.65,142.35 437,137 C438.35,131.65 440.08,121.11 441.4,115.9 C442.72,110.7 444.47,105.63 445.8,102.3 C447.13,98.97 448.97,95.67 450.3,93.7 C451.63,91.73 453.37,90.88 454.7,89.2 C456.03,87.52 457.87,84.05 459.2,82.5 C460.53,80.95 462.33,79.88 463.6,78.9 C464.88,77.93 466.43,78.14 467.7,76 C468.97,73.86 470.74,66.58 472.1,64.6 C473.47,62.62 475.48,64.24 476.8,62.8 C478.12,61.36 477.38,59.53 480.9,55 C484.42,50.47 494.94,37.22 500.3,32.6 C505.66,27.98 511.19,26.66 516.6,24.2 C522.01,21.74 532.88,17.79 536.4,16.2 C539.92,14.61 539.55,13.99 540.1,13.6" fill="none" stroke="#1f8fae" stroke-width="1.0"/>
<path d="M540.1,13.6 C535.72,13.6 519.38,13.21 510.9,13.6 C502.42,13.99 488.4,15.4 483.6,16.2 C478.8,16.99 480.28,18.58 478.9,18.9 C477.52,19.21 475.72,18.18 474.4,18.3 C473.08,18.42 471.42,19.1 470.1,19.7 C468.78,20.3 466.89,21.54 465.6,22.3 C464.31,23.07 462.79,24.04 461.5,24.8 C460.21,25.57 458.38,26.33 457,27.4 C455.62,28.46 453.67,29.75 452.3,31.9 C450.94,34.05 449.2,37.94 447.9,41.7 C446.59,45.47 444.86,51.33 443.6,57 C442.34,62.67 440.79,74.37 439.5,79.5 C438.21,84.63 436.35,88.65 435,91.2 C433.65,93.75 431.83,94.78 430.5,96.5 C429.17,98.22 427.44,101.17 426.1,102.7 C424.77,104.23 422.94,105.11 421.6,106.7 C420.27,108.29 418.53,111.62 417.2,113.3 C415.87,114.98 414.03,116.31 412.7,117.9 C411.37,119.49 409.63,121.86 408.3,123.9 C406.97,125.94 405.11,129.15 403.8,131.5 C402.5,133.85 401.13,136.97 399.6,139.6 C398.07,142.22 399.39,144.68 393.6,149 C387.81,153.32 368.14,164.41 361,168.4 C353.86,172.39 349.45,174.53 346,175.6 C342.55,176.66 339.2,175.51 338,175.5" fill="none" stroke="#1f8fae" stroke-width="1.0"/>
<circle cx="344.4" cy="172.2" r="3.2" fill="url(#g_red)"/>
<circle cx="379" cy="169" r="3.2" fill="url(#g_red)"/>
<circle cx="393.6" cy="169" r="3.2" fill="url(#g_red)"/>
<circle cx="398" cy="167.6" r="3.2" fill="url(#g_red)"/>
<circle cx="402.4" cy="166.4" r="3.2" fill="url(#g_red)"/>
<circle cx="407" cy="165" r="3.2" fill="url(#g_red)"/>
<circle cx="411.6" cy="163.6" r="3.2" fill="url(#g_red)"/>
<circle cx="416" cy="161.6" r="3.2" fill="url(#g_red)"/>
<circle cx="420.4" cy="157" r="3.2" fill="url(#g_red)"/>
<circle cx="424.4" cy="152.4" r="3.2" fill="url(#g_red)"/>
<circle cx="429" cy="145" r="3.2" fill="url(#g_red)"/>
<circle cx="433.6" cy="131.6" r="3.2" fill="url(#g_red)"/>
<circle cx="437.9" cy="111.6" r="3.2" fill="url(#g_red)"/>
<circle cx="442.3" cy="99.1" r="3.2" fill="url(#g_red)"/>
<circle cx="446.5" cy="91.2" r="3.2" fill="url(#g_red)"/>
<circle cx="450.9" cy="86.4" r="3.2" fill="url(#g_red)"/>
<circle cx="455" cy="81" r="3.2" fill="url(#g_red)"/>
<circle cx="459.9" cy="75.4" r="3.2" fill="url(#g_red)"/>
<circle cx="464.6" cy="71.9" r="3.2" fill="url(#g_red)"/>
<circle cx="468.7" cy="61.7" r="3.2" fill="url(#g_red)"/>
<circle cx="473.4" cy="59.7" r="3.2" fill="url(#g_red)"/>
<circle cx="477.4" cy="51.5" r="3.2" fill="url(#g_red)"/>
<circle cx="497.2" cy="33.6" r="3.2" fill="url(#g_red)"/>
<circle cx="531" cy="18.3" r="3.2" fill="url(#g_red)"/>
<circle cx="540" cy="15.5" r="3.2" fill="url(#g_red)"/>
<circle cx="540" cy="15.5" r="3.2" fill="url(#g_red)"/>
<circle cx="510.1" cy="15.6" r="3.2" fill="url(#g_red)"/>
<circle cx="483.6" cy="17.7" r="3.2" fill="url(#g_red)"/>
<circle cx="479.9" cy="20.3" r="3.2" fill="url(#g_red)"/>
<circle cx="475.4" cy="21.3" r="3.2" fill="url(#g_red)"/>
<circle cx="470.7" cy="23" r="3.2" fill="url(#g_red)"/>
<circle cx="466.6" cy="25.4" r="3.2" fill="url(#g_red)"/>
<circle cx="461.5" cy="27.9" r="3.2" fill="url(#g_red)"/>
<circle cx="457.4" cy="29.9" r="3.2" fill="url(#g_red)"/>
<circle cx="453" cy="36.6" r="3.2" fill="url(#g_red)"/>
<circle cx="448.3" cy="45.8" r="3.2" fill="url(#g_red)"/>
<circle cx="444.2" cy="59.1" r="3.2" fill="url(#g_red)"/>
<circle cx="440.1" cy="79.5" r="3.2" fill="url(#g_red)"/>
<circle cx="435.5" cy="92.5" r="3.2" fill="url(#g_red)"/>
<circle cx="431" cy="98" r="3.2" fill="url(#g_red)"/>
<circle cx="426.5" cy="104" r="3.2" fill="url(#g_red)"/>
<circle cx="422" cy="108" r="3.2" fill="url(#g_red)"/>
<circle cx="417.5" cy="114.5" r="3.2" fill="url(#g_red)"/>
<circle cx="413" cy="119" r="3.2" fill="url(#g_red)"/>
<circle cx="408.5" cy="125" r="3.2" fill="url(#g_red)"/>
<circle cx="404" cy="133" r="3.2" fill="url(#g_red)"/>
<circle cx="399.6" cy="140.6" r="3.2" fill="url(#g_red)"/>
<circle cx="393.6" cy="147.5" r="3.2" fill="url(#g_red)"/>
<circle cx="360.6" cy="165.9" r="3.2" fill="url(#g_red)"/>
<circle cx="344.4" cy="172.2" r="3.2" fill="url(#g_red)"/>
<circle cx="346" cy="175.6" r="3.2" fill="url(#g_teal)"/>
<circle cx="380" cy="174.4" r="3.2" fill="url(#g_teal)"/>
<circle cx="397" cy="173" r="3.2" fill="url(#g_teal)"/>
<circle cx="401.6" cy="172" r="3.2" fill="url(#g_teal)"/>
<circle cx="406" cy="171" r="3.2" fill="url(#g_teal)"/>
<circle cx="410.4" cy="170" r="3.2" fill="url(#g_teal)"/>
<circle cx="415" cy="169.4" r="3.2" fill="url(#g_teal)"/>
<circle cx="419.4" cy="167.6" r="3.2" fill="url(#g_teal)"/>
<circle cx="423.6" cy="164" r="3.2" fill="url(#g_teal)"/>
<circle cx="428" cy="159.6" r="3.2" fill="url(#g_teal)"/>
<circle cx="432.4" cy="151.6" r="3.2" fill="url(#g_teal)"/>
<circle cx="437" cy="137" r="3.2" fill="url(#g_teal)"/>
<circle cx="441.4" cy="115.9" r="3.2" fill="url(#g_teal)"/>
<circle cx="445.8" cy="102.3" r="3.2" fill="url(#g_teal)"/>
<circle cx="450.3" cy="93.7" r="3.2" fill="url(#g_teal)"/>
<circle cx="454.7" cy="89.2" r="3.2" fill="url(#g_teal)"/>
<circle cx="459.2" cy="82.5" r="3.2" fill="url(#g_teal)"/>
<circle cx="463.6" cy="78.9" r="3.2" fill="url(#g_teal)"/>
<circle cx="467.7" cy="76" r="3.2" fill="url(#g_teal)"/>
<circle cx="472.1" cy="64.6" r="3.2" fill="url(#g_teal)"/>
<circle cx="476.8" cy="62.8" r="3.2" fill="url(#g_teal)"/>
<circle cx="480.9" cy="55" r="3.2" fill="url(#g_teal)"/>
<circle cx="500.3" cy="32.6" r="3.2" fill="url(#g_teal)"/>
<circle cx="536.4" cy="16.2" r="3.2" fill="url(#g_teal)"/>
<circle cx="540.1" cy="13.6" r="3.2" fill="url(#g_teal)"/>
<circle cx="540.1" cy="13.6" r="3.2" fill="url(#g_teal)"/>
<circle cx="510.9" cy="13.6" r="3.2" fill="url(#g_teal)"/>
<circle cx="483.6" cy="16.2" r="3.2" fill="url(#g_teal)"/>
<circle cx="478.9" cy="18.9" r="3.2" fill="url(#g_teal)"/>
<circle cx="474.4" cy="18.3" r="3.2" fill="url(#g_teal)"/>
<circle cx="470.1" cy="19.7" r="3.2" fill="url(#g_teal)"/>
<circle cx="465.6" cy="22.3" r="3.2" fill="url(#g_teal)"/>
<circle cx="461.5" cy="24.8" r="3.2" fill="url(#g_teal)"/>
<circle cx="457" cy="27.4" r="3.2" fill="url(#g_teal)"/>
<circle cx="452.3" cy="31.9" r="3.2" fill="url(#g_teal)"/>
<circle cx="447.9" cy="41.7" r="3.2" fill="url(#g_teal)"/>
<circle cx="443.6" cy="57" r="3.2" fill="url(#g_teal)"/>
<circle cx="439.5" cy="79.5" r="3.2" fill="url(#g_teal)"/>
<circle cx="435" cy="91.2" r="3.2" fill="url(#g_teal)"/>
<circle cx="430.5" cy="96.5" r="3.2" fill="url(#g_teal)"/>
<circle cx="426.1" cy="102.7" r="3.2" fill="url(#g_teal)"/>
<circle cx="421.6" cy="106.7" r="3.2" fill="url(#g_teal)"/>
<circle cx="417.2" cy="113.3" r="3.2" fill="url(#g_teal)"/>
<circle cx="412.7" cy="117.9" r="3.2" fill="url(#g_teal)"/>
<circle cx="408.3" cy="123.9" r="3.2" fill="url(#g_teal)"/>
<circle cx="403.8" cy="131.5" r="3.2" fill="url(#g_teal)"/>
<circle cx="399.6" cy="139.6" r="3.2" fill="url(#g_teal)"/>
<circle cx="393.6" cy="149" r="3.2" fill="url(#g_teal)"/>
<circle cx="361" cy="168.4" r="3.2" fill="url(#g_teal)"/>
<circle cx="346" cy="175.6" r="3.2" fill="url(#g_teal)"/>
<rect x="333.8" y="9.3" width="211.7" height="170" fill="none" stroke="#858585" stroke-width="1.1"/>
<path d="M337.45,179.3 v-2.4 M352.1,179.3 v-2.4 M366.75,179.3 v-2.4 M381.4,179.3 v-2.4 M396.05,179.3 v-2.4 M410.7,179.3 v-2.4 M425.35,179.3 v-2.4 M440,179.3 v-2.4 M454.65,179.3 v-2.4 M469.3,179.3 v-2.4 M483.95,179.3 v-2.4 M498.6,179.3 v-2.4 M513.25,179.3 v-2.4 M527.9,179.3 v-2.4 M542.55,179.3 v-2.4 M333.8,175.4 h2.6 M333.8,134.82 h2.6 M333.8,94.25 h2.6 M333.8,53.67 h2.6 M333.8,13.1 h2.6" stroke="#858585" stroke-width="1"/>
<g font-size="10.6" fill="#1a1a1a"><text x="351.8" y="192.9" text-anchor="middle">−300</text><text x="381.1" y="192.9" text-anchor="middle">−200</text><text x="410.4" y="192.9" text-anchor="middle">−100</text><text x="439.7" y="192.9" text-anchor="middle">0</text><text x="469" y="192.9" text-anchor="middle">100</text><text x="498.3" y="192.9" text-anchor="middle">200</text><text x="527.6" y="192.9" text-anchor="middle">300</text><text x="330" y="16.9" text-anchor="end" font-weight="bold">1</text><text x="330" y="98.55" text-anchor="end" font-weight="normal">0</text><text x="330" y="179.2" text-anchor="end" font-weight="normal">−<tspan font-weight="bold">1</tspan></text></g>
<text x="408.9" y="214.6" font-size="14.4" font-weight="bold" fill="#111" textLength="58" lengthAdjust="spacingAndGlyphs">Field (Oe)</text>
<g transform="translate(322,98) rotate(-90)" font-weight="bold" fill="#111"><text x="0" y="0" text-anchor="middle" font-size="13.4" textLength="23.6" lengthAdjust="spacingAndGlyphs">M/M</text><text x="12.4" y="3.9" font-size="10.4">s</text></g>
<line x1="439.8" y1="142.3" x2="461.8" y2="142.3" stroke="#f26b63" stroke-width="1.1"/>
<circle cx="450" cy="142.3" r="3.1" fill="url(#g_red)"/>
<text x="464.6" y="145.7" font-size="11.5" font-weight="bold" fill="#111" textLength="60" lengthAdjust="spacingAndGlyphs">bent 1 time</text>
<line x1="439.8" y1="151.5" x2="461.8" y2="151.5" stroke="#1f8fae" stroke-width="1.1"/>
<circle cx="450" cy="151.5" r="3.1" fill="url(#g_teal)"/>
<text x="464.6" y="154.9" font-size="11.5" font-weight="bold" fill="#111" textLength="79" lengthAdjust="spacingAndGlyphs">bent 100 times</text>
<text x="345.4" y="28.4" font-size="10.3" font-weight="bold" fill="#111" textLength="56.9" lengthAdjust="spacingAndGlyphs">K= 1/3 mm</text>
<text x="403.7" y="23.2" font-size="7.4" fill="#111">−<tspan font-weight="bold">1</tspan></text>
<text transform="translate(282,22.65) scale(0.78,1)" text-anchor="middle" font-size="25.2" fill="#111">(</text>
<text transform="translate(291,22.9) scale(0.78,1)" text-anchor="middle" font-size="24" fill="#111">b</text>
<text transform="translate(301.4,22.65) scale(0.78,1)" text-anchor="middle" font-size="25.2" fill="#111">)</text>
<g transform="translate(347,45) scale(1)">
<path d="M45,7 C51,7.6 58.5,10.5 65.5,17.8 C59,16.2 53.5,12.8 45.5,9.6 Z" fill="url(#rib_red)"/>
<path d="M0.3,12.2 C5,6 14,1.5 23.5,0.3 C32,-0.5 42,3 48.3,6.6 L45.4,7.4 C40,7.5 36.5,7.5 33,10.5 C29,13.5 24,18 17,21.9 Z" fill="url(#rib_top)"/>
<path d="M0.3,12.2 C5,6 14,1.5 23.5,0.3 C32,-0.5 42,3 48.3,6.6 L45.4,7.4 C40,7.5 36.5,7.5 33,10.5 C29,13.5 24,18 17,21.9 Z" fill="url(#rib_blue)"/>
<path d="M17,21.9 C24,17.5 29,13 33,10.5 C36.5,7.8 40,7.5 45.4,7.4" fill="none" stroke="#ef6a62" stroke-width="1.2"/>
</g>
<line x1="54.5" y1="315.1" x2="266" y2="315.1" stroke="#7c7c7c" stroke-width="0.9" stroke-dasharray="2.1,2.3"/>
<line x1="160.4" y1="229.6" x2="160.4" y2="399.4" stroke="#7c7c7c" stroke-width="0.9" stroke-dasharray="2.1,2.3"/>
<path d="M59.4,391.5 C65.69,391.98 92.31,394.4 101.3,394.7 C110.28,395 115.95,393.38 119.3,393.5 C122.64,393.62 122.19,395.73 123.6,395.5 C125.01,395.27 127.27,392.3 128.7,392 C130.12,391.7 131.82,393.57 133.1,393.5 C134.38,393.43 135.92,391.97 137.2,391.5 C138.47,391.03 140.29,390.88 141.6,390.4 C142.91,389.92 144.59,389.19 145.9,388.3 C147.21,387.42 148.89,386.19 150.3,384.5 C151.71,382.81 154.1,381.8 155.3,377 C156.5,372.2 157.15,360.3 158.3,352.5 C159.46,344.7 161.62,329.95 163,325 C164.38,320.05 166.15,321.15 167.5,319.5 C168.85,317.85 170.69,315.43 172,314 C173.31,312.57 174.88,311.57 176.2,310 C177.52,308.43 179.45,305.6 180.8,303.5 C182.15,301.4 183.86,298.75 185.2,296 C186.53,293.25 188.41,289.58 189.7,285.2 C190.99,280.82 192.57,271.39 193.8,266.8 C195.03,262.21 196.52,257.05 197.9,254.6 C199.28,252.16 199.4,252.03 203,250.5 C206.6,248.97 214.1,245.47 221.9,244.4 C229.7,243.34 249.27,243.55 255,243.4 C260.73,243.25 259.34,243.4 260.1,243.4" fill="none" stroke="#f26b63" stroke-width="1.0"/>
<path d="M260.1,243.4 C255.66,242.94 238.91,240.86 230.5,240.3 C222.09,239.75 208.59,239.79 204,239.7 C199.41,239.61 201.13,239.7 199.9,239.7 C198.67,239.7 197.03,239.52 195.8,239.7 C194.57,239.88 192.91,240.66 191.7,240.9 C190.48,241.14 188.91,241.09 187.7,241.3 C186.48,241.51 184.89,241.75 183.6,242.3 C182.31,242.86 180.48,244.07 179.1,245 C177.72,245.93 175.87,247.36 174.4,248.5 C172.93,249.64 170.98,250 169.3,252.6 C167.62,255.19 164.73,258.86 163.2,265.8 C161.67,272.75 160.36,291.83 159.1,298.9 C157.84,305.96 156.09,310.03 154.8,312.9 C153.51,315.76 151.78,316.59 150.5,318 C149.22,319.41 147.59,321 146.3,322.3 C145.01,323.61 143.18,325.09 141.9,326.7 C140.62,328.31 139.18,330.45 137.8,333 C136.42,335.55 134.08,339.71 132.7,343.7 C131.32,347.69 129.86,355.12 128.6,359.6 C127.34,364.09 125.65,370.39 124.3,373.6 C122.95,376.81 121.25,379.06 119.6,381 C117.95,382.94 119.31,384.95 113.3,386.5 C107.28,388.05 86.39,390.5 79.5,391.3 C72.61,392.1 70.42,391.77 67.4,391.8 C64.39,391.83 60.6,391.55 59.4,391.5" fill="none" stroke="#f26b63" stroke-width="1.0"/>
<path d="M60,392.5 C67.36,392.88 100.35,395 109.1,395 C117.84,395 116.27,392.55 118.3,392.5 C120.33,392.45 121.19,395.01 122.6,394.7 C124.01,394.38 126.28,390.73 127.7,390.4 C129.12,390.07 130.82,392.61 132.1,392.5 C133.38,392.39 134.92,390.31 136.2,389.7 C137.47,389.08 139.29,388.91 140.6,388.4 C141.91,387.89 143.59,387.19 144.9,386.3 C146.21,385.42 147.89,384.21 149.3,382.5 C150.71,380.79 153.1,379.82 154.3,374.9 C155.5,369.98 156.12,357.53 157.3,349.7 C158.49,341.87 160.77,327.68 162.2,322.7 C163.62,317.72 165.45,318.33 166.8,316.5 C168.15,314.67 169.92,311.89 171.2,310.5 C172.47,309.11 174,308.69 175.3,307.2 C176.61,305.71 178.5,302.99 179.9,300.6 C181.3,298.22 183.19,294.31 184.6,291.3 C186.01,288.29 188.07,284.77 189.3,280.5 C190.53,276.23 191.59,267.45 192.8,262.8 C194.02,258.15 196.09,252.11 197.4,249.5 C198.71,246.89 197.91,247.08 201.5,245.4 C205.09,243.72 213.28,239.68 221.3,238.3 C229.33,236.92 249.18,236.51 255,236.2 C260.82,235.88 259.34,236.2 260.1,236.2" fill="none" stroke="#1f8fae" stroke-width="1.0"/>
<path d="M260.1,236.2 C255.81,235.81 239.77,233.9 231.5,233.6 C223.23,233.3 209.59,234.11 205,234.2 C200.41,234.29 202.13,234.2 200.9,234.2 C199.67,234.2 198.12,234.05 196.8,234.2 C195.48,234.35 193.47,234.81 192.1,235.2 C190.73,235.59 189.03,236.43 187.7,236.8 C186.36,237.18 184.58,236.97 183.2,237.7 C181.82,238.43 179.82,240.63 178.5,241.7 C177.18,242.76 175.72,243.78 174.4,244.8 C173.08,245.82 171.02,245.8 169.7,248.5 C168.38,251.2 166.89,255.62 165.6,262.8 C164.31,269.99 162.47,289.17 161.1,296.4 C159.73,303.63 157.87,308.07 156.5,311 C155.13,313.93 153.31,314.5 152,315.9 C150.69,317.29 149.09,318.98 147.8,320.3 C146.51,321.62 144.68,323.11 143.4,324.7 C142.12,326.29 140.61,328.25 139.3,330.9 C138,333.55 136.05,338.3 134.7,342.4 C133.35,346.5 131.62,353.82 130.3,358.2 C128.98,362.58 127.21,368.27 125.9,371.6 C124.59,374.93 123.01,378.16 121.6,380.4 C120.19,382.63 122.12,384.69 116.5,386.5 C110.88,388.31 90.26,391.48 84.1,392.5 C77.94,393.52 79.02,393.3 75.4,393.3 C71.79,393.3 62.31,392.62 60,392.5" fill="none" stroke="#1f8fae" stroke-width="1.0"/>
<circle cx="101.3" cy="394.7" r="3.2" fill="url(#g_red)"/>
<circle cx="119.3" cy="393.5" r="3.2" fill="url(#g_red)"/>
<circle cx="123.6" cy="395.5" r="3.2" fill="url(#g_red)"/>
<circle cx="128.7" cy="392" r="3.2" fill="url(#g_red)"/>
<circle cx="133.1" cy="393.5" r="3.2" fill="url(#g_red)"/>
<circle cx="137.2" cy="391.5" r="3.2" fill="url(#g_red)"/>
<circle cx="141.6" cy="390.4" r="3.2" fill="url(#g_red)"/>
<circle cx="145.9" cy="388.3" r="3.2" fill="url(#g_red)"/>
<circle cx="150.3" cy="384.5" r="3.2" fill="url(#g_red)"/>
<circle cx="155.3" cy="377" r="3.2" fill="url(#g_red)"/>
<circle cx="158.3" cy="352.5" r="3.2" fill="url(#g_red)"/>
<circle cx="163" cy="325" r="3.2" fill="url(#g_red)"/>
<circle cx="167.5" cy="319.5" r="3.2" fill="url(#g_red)"/>
<circle cx="172" cy="314" r="3.2" fill="url(#g_red)"/>
<circle cx="176.2" cy="310" r="3.2" fill="url(#g_red)"/>
<circle cx="180.8" cy="303.5" r="3.2" fill="url(#g_red)"/>
<circle cx="185.2" cy="296" r="3.2" fill="url(#g_red)"/>
<circle cx="189.7" cy="285.2" r="3.2" fill="url(#g_red)"/>
<circle cx="193.8" cy="266.8" r="3.2" fill="url(#g_red)"/>
<circle cx="197.9" cy="254.6" r="3.2" fill="url(#g_red)"/>
<circle cx="203" cy="250.5" r="3.2" fill="url(#g_red)"/>
<circle cx="221.9" cy="244.4" r="3.2" fill="url(#g_red)"/>
<circle cx="255" cy="243.4" r="3.2" fill="url(#g_red)"/>
<circle cx="260.1" cy="243.4" r="3.2" fill="url(#g_red)"/>
<circle cx="260.1" cy="243.4" r="3.2" fill="url(#g_red)"/>
<circle cx="230.5" cy="240.3" r="3.2" fill="url(#g_red)"/>
<circle cx="204" cy="239.7" r="3.2" fill="url(#g_red)"/>
<circle cx="199.9" cy="239.7" r="3.2" fill="url(#g_red)"/>
<circle cx="195.8" cy="239.7" r="3.2" fill="url(#g_red)"/>
<circle cx="191.7" cy="240.9" r="3.2" fill="url(#g_red)"/>
<circle cx="187.7" cy="241.3" r="3.2" fill="url(#g_red)"/>
<circle cx="183.6" cy="242.3" r="3.2" fill="url(#g_red)"/>
<circle cx="179.1" cy="245" r="3.2" fill="url(#g_red)"/>
<circle cx="174.4" cy="248.5" r="3.2" fill="url(#g_red)"/>
<circle cx="169.3" cy="252.6" r="3.2" fill="url(#g_red)"/>
<circle cx="163.2" cy="265.8" r="3.2" fill="url(#g_red)"/>
<circle cx="159.1" cy="298.9" r="3.2" fill="url(#g_red)"/>
<circle cx="154.8" cy="312.9" r="3.2" fill="url(#g_red)"/>
<circle cx="150.5" cy="318" r="3.2" fill="url(#g_red)"/>
<circle cx="146.3" cy="322.3" r="3.2" fill="url(#g_red)"/>
<circle cx="141.9" cy="326.7" r="3.2" fill="url(#g_red)"/>
<circle cx="137.8" cy="333" r="3.2" fill="url(#g_red)"/>
<circle cx="132.7" cy="343.7" r="3.2" fill="url(#g_red)"/>
<circle cx="128.6" cy="359.6" r="3.2" fill="url(#g_red)"/>
<circle cx="124.3" cy="373.6" r="3.2" fill="url(#g_red)"/>
<circle cx="119.6" cy="381" r="3.2" fill="url(#g_red)"/>
<circle cx="113.3" cy="386.5" r="3.2" fill="url(#g_red)"/>
<circle cx="79.5" cy="391.3" r="3.2" fill="url(#g_red)"/>
<circle cx="67.4" cy="391.8" r="3.2" fill="url(#g_red)"/>
<circle cx="109.1" cy="395" r="3.2" fill="url(#g_teal)"/>
<circle cx="118.3" cy="392.5" r="3.2" fill="url(#g_teal)"/>
<circle cx="122.6" cy="394.7" r="3.2" fill="url(#g_teal)"/>
<circle cx="127.7" cy="390.4" r="3.2" fill="url(#g_teal)"/>
<circle cx="132.1" cy="392.5" r="3.2" fill="url(#g_teal)"/>
<circle cx="136.2" cy="389.7" r="3.2" fill="url(#g_teal)"/>
<circle cx="140.6" cy="388.4" r="3.2" fill="url(#g_teal)"/>
<circle cx="144.9" cy="386.3" r="3.2" fill="url(#g_teal)"/>
<circle cx="149.3" cy="382.5" r="3.2" fill="url(#g_teal)"/>
<circle cx="154.3" cy="374.9" r="3.2" fill="url(#g_teal)"/>
<circle cx="157.3" cy="349.7" r="3.2" fill="url(#g_teal)"/>
<circle cx="162.2" cy="322.7" r="3.2" fill="url(#g_teal)"/>
<circle cx="166.8" cy="316.5" r="3.2" fill="url(#g_teal)"/>
<circle cx="171.2" cy="310.5" r="3.2" fill="url(#g_teal)"/>
<circle cx="175.3" cy="307.2" r="3.2" fill="url(#g_teal)"/>
<circle cx="179.9" cy="300.6" r="3.2" fill="url(#g_teal)"/>
<circle cx="184.6" cy="291.3" r="3.2" fill="url(#g_teal)"/>
<circle cx="189.3" cy="280.5" r="3.2" fill="url(#g_teal)"/>
<circle cx="192.8" cy="262.8" r="3.2" fill="url(#g_teal)"/>
<circle cx="197.4" cy="249.5" r="3.2" fill="url(#g_teal)"/>
<circle cx="201.5" cy="245.4" r="3.2" fill="url(#g_teal)"/>
<circle cx="221.3" cy="238.3" r="3.2" fill="url(#g_teal)"/>
<circle cx="255" cy="236.2" r="3.2" fill="url(#g_teal)"/>
<circle cx="260.1" cy="236.2" r="3.2" fill="url(#g_teal)"/>
<circle cx="260.1" cy="236.2" r="3.2" fill="url(#g_teal)"/>
<circle cx="231.5" cy="233.6" r="3.2" fill="url(#g_teal)"/>
<circle cx="205" cy="234.2" r="3.2" fill="url(#g_teal)"/>
<circle cx="200.9" cy="234.2" r="3.2" fill="url(#g_teal)"/>
<circle cx="196.8" cy="234.2" r="3.2" fill="url(#g_teal)"/>
<circle cx="192.1" cy="235.2" r="3.2" fill="url(#g_teal)"/>
<circle cx="187.7" cy="236.8" r="3.2" fill="url(#g_teal)"/>
<circle cx="183.2" cy="237.7" r="3.2" fill="url(#g_teal)"/>
<circle cx="178.5" cy="241.7" r="3.2" fill="url(#g_teal)"/>
<circle cx="174.4" cy="244.8" r="3.2" fill="url(#g_teal)"/>
<circle cx="169.7" cy="248.5" r="3.2" fill="url(#g_teal)"/>
<circle cx="165.6" cy="262.8" r="3.2" fill="url(#g_teal)"/>
<circle cx="161.1" cy="296.4" r="3.2" fill="url(#g_teal)"/>
<circle cx="156.5" cy="311" r="3.2" fill="url(#g_teal)"/>
<circle cx="152" cy="315.9" r="3.2" fill="url(#g_teal)"/>
<circle cx="147.8" cy="320.3" r="3.2" fill="url(#g_teal)"/>
<circle cx="143.4" cy="324.7" r="3.2" fill="url(#g_teal)"/>
<circle cx="139.3" cy="330.9" r="3.2" fill="url(#g_teal)"/>
<circle cx="134.7" cy="342.4" r="3.2" fill="url(#g_teal)"/>
<circle cx="130.3" cy="358.2" r="3.2" fill="url(#g_teal)"/>
<circle cx="125.9" cy="371.6" r="3.2" fill="url(#g_teal)"/>
<circle cx="121.6" cy="380.4" r="3.2" fill="url(#g_teal)"/>
<circle cx="116.5" cy="386.5" r="3.2" fill="url(#g_teal)"/>
<circle cx="84.1" cy="392.5" r="3.2" fill="url(#g_teal)"/>
<circle cx="75.4" cy="393.3" r="3.2" fill="url(#g_teal)"/>
<rect x="54.5" y="229.6" width="211.5" height="169.8" fill="none" stroke="#858585" stroke-width="1.1"/>
<path d="M57.15,399.4 v-2.4 M71.9,399.4 v-2.4 M86.65,399.4 v-2.4 M101.4,399.4 v-2.4 M116.15,399.4 v-2.4 M130.9,399.4 v-2.4 M145.65,399.4 v-2.4 M160.4,399.4 v-2.4 M175.15,399.4 v-2.4 M189.9,399.4 v-2.4 M204.65,399.4 v-2.4 M219.4,399.4 v-2.4 M234.15,399.4 v-2.4 M248.9,399.4 v-2.4 M263.65,399.4 v-2.4 M54.5,395.7 h2.6 M54.5,355.15 h2.6 M54.5,314.6 h2.6 M54.5,274.05 h2.6 M54.5,233.5 h2.6" stroke="#858585" stroke-width="1"/>
<g font-size="10.6" fill="#1a1a1a"><text x="71.6" y="413.2" text-anchor="middle">−300</text><text x="101.1" y="413.2" text-anchor="middle">−200</text><text x="130.6" y="413.2" text-anchor="middle">−100</text><text x="160.1" y="413.2" text-anchor="middle">0</text><text x="189.6" y="413.2" text-anchor="middle">100</text><text x="219.1" y="413.2" text-anchor="middle">200</text><text x="248.6" y="413.2" text-anchor="middle">300</text><text x="50.7" y="237.3" text-anchor="end" font-weight="bold">1</text><text x="50.7" y="318.9" text-anchor="end" font-weight="normal">0</text><text x="50.7" y="399.5" text-anchor="end" font-weight="normal">−<tspan font-weight="bold">1</tspan></text></g>
<text x="130.3" y="434.6" font-size="14.4" font-weight="bold" fill="#111" textLength="58" lengthAdjust="spacingAndGlyphs">Field (Oe)</text>
<g transform="translate(42,313.5) rotate(-90)" font-weight="bold" fill="#111"><text x="0" y="0" text-anchor="middle" font-size="13.4" textLength="23.6" lengthAdjust="spacingAndGlyphs">M/M</text><text x="12.4" y="3.9" font-size="10.4">s</text></g>
<line x1="159.8" y1="357.7" x2="181.8" y2="357.7" stroke="#f26b63" stroke-width="1.1"/>
<circle cx="170" cy="357.7" r="3.1" fill="url(#g_red)"/>
<text x="184.6" y="361.1" font-size="11.5" font-weight="bold" fill="#111" textLength="60" lengthAdjust="spacingAndGlyphs">bent 1 time</text>
<line x1="159.8" y1="366.9" x2="181.8" y2="366.9" stroke="#1f8fae" stroke-width="1.1"/>
<circle cx="170" cy="366.9" r="3.1" fill="url(#g_teal)"/>
<text x="184.6" y="370.3" font-size="11.5" font-weight="bold" fill="#111" textLength="79" lengthAdjust="spacingAndGlyphs">bent 100 times</text>
<text x="68.6" y="250" font-size="10.3" font-weight="bold" fill="#111" textLength="57.5" lengthAdjust="spacingAndGlyphs">K= 1/4 mm</text>
<text x="126.4" y="244.8" font-size="7.4" fill="#111">−<tspan font-weight="bold">1</tspan></text>
<text transform="translate(4.6,239.25) scale(0.78,1)" text-anchor="middle" font-size="25.2" fill="#111">(</text>
<text transform="translate(13.3,239.5) scale(0.78,1)" text-anchor="middle" font-size="24" fill="#111">c</text>
<text transform="translate(22.3,239.25) scale(0.78,1)" text-anchor="middle" font-size="25.2" fill="#111">)</text>
<g transform="translate(63,261.5) scale(1.1)">
<path d="M45,7 C51,7.6 58.5,10.5 65.5,17.8 C59,16.2 53.5,12.8 45.5,9.6 Z" fill="url(#rib_red)"/>
<path d="M0.3,14.8 C5,8.6 14,1.5 23.5,0.3 C32,-0.5 42,3 48.3,6.6 L45.4,7.4 C40,7.5 36.5,7.5 33,10.5 C29,13.5 24,18 17,21.9 Z" fill="url(#rib_top_c)"/>
<path d="M0.3,14.8 C5,8.6 14,1.5 23.5,0.3 C32,-0.5 42,3 48.3,6.6 L45.4,7.4 C40,7.5 36.5,7.5 33,10.5 C29,13.5 24,18 17,21.9 Z" fill="url(#rib_blue)"/>
<path d="M17,21.9 C24,17.5 29,13 33,10.5 C36.5,7.8 40,7.5 45.4,7.4" fill="none" stroke="#ef6a62" stroke-width="1.2"/>
</g>
<line x1="333.8" y1="315.1" x2="544.8" y2="315.1" stroke="#7c7c7c" stroke-width="0.9" stroke-dasharray="2.1,2.3"/>
<line x1="440" y1="229.6" x2="440" y2="399.5" stroke="#7c7c7c" stroke-width="0.9" stroke-dasharray="2.1,2.3"/>
<path d="M338,387 C345.5,387.45 379,389.91 388,390 C397,390.09 395.9,387.98 398,387.6 C400.1,387.23 400.8,387.67 402,387.5 C403.2,387.33 404.95,386.88 406,386.5 C407.05,386.12 407.95,385.38 409,385 C410.05,384.62 411.8,384.3 413,384 C414.2,383.7 415.95,383.38 417,383 C418.05,382.62 419.1,381.95 420,381.5 C420.9,381.05 422.1,380.6 423,380 C423.9,379.4 424.95,378.25 426,377.5 C427.05,376.75 429.1,375.98 430,375 C430.9,374.02 431.4,372.35 432,371 C432.6,369.65 433.4,368.4 434,366 C434.6,363.6 435.43,359.02 436,355 C436.57,350.98 437.14,342.35 437.8,339.2 C438.46,336.05 439.65,335.49 440.4,334 C441.15,332.51 441.94,330.51 442.8,329.3 C443.66,328.09 445.08,326.88 446.1,325.9 C447.12,324.92 448.62,323.62 449.6,322.8 C450.58,321.98 451.6,320.85 452.6,320.4 C453.61,319.95 455.22,320.82 456.3,319.8 C457.38,318.78 458.82,314.74 459.8,313.6 C460.78,312.46 461.88,313.12 462.8,312.2 C463.72,311.28 465.03,308.97 465.9,307.5 C466.77,306.03 467.84,303.78 468.6,302.4 C469.37,301.02 470.34,299.83 471,298.3 C471.66,296.77 472.28,294.01 473,292.2 C473.72,290.38 475.17,288.48 475.8,286.2 C476.43,283.92 476.68,279.44 477.2,277 C477.72,274.56 478.6,272.19 479.3,269.9 C480,267.6 480.89,263.9 481.9,261.7 C482.9,259.5 483.09,257.96 486,255.2 C488.91,252.44 496.65,245.45 501.3,243.3 C505.95,241.16 512.25,241.56 517,240.9 C521.75,240.24 529.68,238.99 533,238.9 C536.32,238.81 538.19,240.09 539.1,240.3" fill="none" stroke="#f26b63" stroke-width="1.0"/>
<path d="M539.1,240.3 C536.96,240.15 533.06,240.37 524.8,239.3 C516.53,238.24 491.03,233.88 484,233.2 C476.97,232.52 479.75,234.56 477.9,234.8 C476.05,235.04 473.31,234.5 471.7,234.8 C470.09,235.1 468.41,236.37 467.2,236.8 C465.99,237.24 464.75,237.47 463.6,237.7 C462.45,237.92 460.73,238 459.5,238.3 C458.27,238.6 456.57,239.1 455.4,239.7 C454.23,240.3 452.93,240.83 451.7,242.3 C450.47,243.77 448.47,244.75 447.2,249.5 C445.93,254.25 444.22,267.89 443.2,274 C442.18,280.11 441.15,286.7 440.4,290.2 C439.65,293.69 438.96,295.77 438.2,297.3 C437.44,298.83 436.2,299.47 435.3,300.4 C434.4,301.33 433.12,302.64 432.2,303.5 C431.28,304.36 430.12,305.34 429.2,306.1 C428.28,306.87 427.03,308.09 426.1,308.6 C425.17,309.11 423.92,309.2 423,309.5 C422.08,309.8 420.86,310.12 420,310.6 C419.14,311.08 418.12,311.94 417.3,312.7 C416.48,313.46 415.32,314.49 414.5,315.7 C413.68,316.91 412.66,319.18 411.8,320.8 C410.94,322.42 409.72,324.6 408.8,326.5 C407.88,328.4 406.62,331.14 405.7,333.5 C404.78,335.86 403.4,339.51 402.7,342.2 C402,344.88 401.62,348.79 401,351.4 C400.38,354.01 399.35,357.31 398.6,359.6 C397.85,361.9 398.79,363.34 396,366.7 C393.21,370.06 383.75,378.65 380,382 C376.25,385.35 373.55,388.34 371,389 C368.45,389.66 365.4,386.7 363,386.4 C360.6,386.1 357.4,386.91 355,387 C352.6,387.09 349.55,387 347,387 C344.45,387 339.35,387 338,387" fill="none" stroke="#f26b63" stroke-width="1.0"/>
<path d="M338,394 C344.6,393.85 373.3,393.24 382,393 C390.7,392.76 393.3,392.61 396,392.4 C398.7,392.19 398.8,391.96 400,391.6 C401.2,391.24 402.95,390.48 404,390 C405.05,389.52 405.95,388.85 407,388.4 C408.05,387.95 409.8,387.3 411,387 C412.2,386.7 413.95,386.7 415,386.4 C416.05,386.1 417.1,385.42 418,385 C418.9,384.58 420.1,384.05 421,383.6 C421.9,383.15 422.95,382.6 424,382 C425.05,381.4 427.1,380.5 428,379.6 C428.9,378.7 429.34,377.59 430,376 C430.66,374.41 431.74,371.55 432.4,369 C433.06,366.45 433.72,362.8 434.4,359 C435.07,355.2 436.15,347.75 436.9,343.7 C437.65,339.65 438.66,334.46 439.4,332 C440.13,329.54 440.94,328.51 441.8,327.3 C442.66,326.09 444.08,324.88 445.1,323.9 C446.12,322.92 447.62,321.62 448.6,320.8 C449.58,319.98 450.6,318.85 451.6,318.4 C452.61,317.95 454.22,318.82 455.3,317.8 C456.38,316.78 457.82,312.74 458.8,311.6 C459.78,310.46 460.88,311.12 461.8,310.2 C462.72,309.28 464.03,306.97 464.9,305.5 C465.77,304.03 466.84,301.78 467.6,300.4 C468.37,299.02 469.34,297.83 470,296.3 C470.66,294.77 471.28,292.01 472,290.2 C472.72,288.38 474.17,286.48 474.8,284.2 C475.43,281.92 475.68,277.44 476.2,275 C476.72,272.56 477.6,270.19 478.3,267.9 C479,265.6 479.89,261.9 480.9,259.7 C481.9,257.5 482.09,255.96 485,253.2 C487.91,250.44 495.39,243.85 500.3,241.3 C505.21,238.75 512.56,237.41 517.7,236.2 C522.85,234.98 531.24,233.11 534.6,233.2 C537.96,233.29 539.27,236.26 540.1,236.8" fill="none" stroke="#1f8fae" stroke-width="1.0"/>
<path d="M540.1,236.8 C537.87,236.56 529.64,235.2 525.2,235.2 C520.76,235.2 514.91,236.25 510.5,236.8 C506.09,237.36 499.93,238.9 495.8,238.9 C491.68,238.9 485.54,236.74 483,236.8 C480.46,236.86 480.13,238.87 478.9,239.3 C477.67,239.74 476.03,239.4 474.8,239.7 C473.57,240 471.93,240.81 470.7,241.3 C469.47,241.8 467.81,242.53 466.6,243 C465.39,243.47 463.82,243.98 462.6,244.4 C461.38,244.82 459.73,245.19 458.5,245.8 C457.27,246.42 455.63,247.8 454.4,248.5 C453.17,249.2 451.22,249.44 450.3,250.5 C449.38,251.56 449.12,253.31 448.3,255.6 C447.48,257.89 445.66,261.75 444.8,265.8 C443.94,269.85 443.28,278.22 442.6,282.6 C441.93,286.98 441.1,292.18 440.3,295 C439.5,297.82 438.2,299.82 437.3,301.4 C436.4,302.97 435.22,304.42 434.3,305.5 C433.38,306.58 432.12,307.9 431.2,308.6 C430.28,309.31 429.12,309.58 428.2,310.2 C427.28,310.81 426.03,311.72 425.1,312.7 C424.17,313.68 422.92,315.84 422,316.7 C421.08,317.56 419.92,317.78 419,318.4 C418.08,319.01 416.81,319.82 415.9,320.8 C414.98,321.78 413.81,323.52 412.9,324.9 C411.98,326.28 410.73,328.09 409.8,330 C408.87,331.91 407.46,335.25 406.7,337.6 C405.94,339.96 405.38,343.31 404.7,345.7 C404.02,348.08 402.88,351.3 402.2,353.5 C401.52,355.7 400.83,358.38 400.2,360.4 C399.57,362.42 398.93,365.02 398,367 C397.07,368.98 397,370.6 394,373.6 C391,376.6 382.35,384.09 378,387 C373.65,389.91 367.55,392.01 365,393 C362.45,393.99 363.55,393.51 361,393.6 C358.45,393.69 350.55,393.6 348,393.6 C345.45,393.6 345.5,393.54 344,393.6 C342.5,393.66 338.9,393.94 338,394" fill="none" stroke="#1f8fae" stroke-width="1.0"/>
<circle cx="388" cy="390" r="3.2" fill="url(#g_red)"/>
<circle cx="398" cy="387.6" r="3.2" fill="url(#g_red)"/>
<circle cx="402" cy="387.5" r="3.2" fill="url(#g_red)"/>
<circle cx="406" cy="386.5" r="3.2" fill="url(#g_red)"/>
<circle cx="409" cy="385" r="3.2" fill="url(#g_red)"/>
<circle cx="413" cy="384" r="3.2" fill="url(#g_red)"/>
<circle cx="417" cy="383" r="3.2" fill="url(#g_red)"/>
<circle cx="420" cy="381.5" r="3.2" fill="url(#g_red)"/>
<circle cx="423" cy="380" r="3.2" fill="url(#g_red)"/>
<circle cx="426" cy="377.5" r="3.2" fill="url(#g_red)"/>
<circle cx="430" cy="375" r="3.2" fill="url(#g_red)"/>
<circle cx="432" cy="371" r="3.2" fill="url(#g_red)"/>
<circle cx="434" cy="366" r="3.2" fill="url(#g_red)"/>
<circle cx="436" cy="355" r="3.2" fill="url(#g_red)"/>
<circle cx="437.8" cy="339.2" r="3.2" fill="url(#g_red)"/>
<circle cx="440.4" cy="334" r="3.2" fill="url(#g_red)"/>
<circle cx="442.8" cy="329.3" r="3.2" fill="url(#g_red)"/>
<circle cx="446.1" cy="325.9" r="3.2" fill="url(#g_red)"/>
<circle cx="449.6" cy="322.8" r="3.2" fill="url(#g_red)"/>
<circle cx="452.6" cy="320.4" r="3.2" fill="url(#g_red)"/>
<circle cx="456.3" cy="319.8" r="3.2" fill="url(#g_red)"/>
<circle cx="459.8" cy="313.6" r="3.2" fill="url(#g_red)"/>
<circle cx="462.8" cy="312.2" r="3.2" fill="url(#g_red)"/>
<circle cx="465.9" cy="307.5" r="3.2" fill="url(#g_red)"/>
<circle cx="468.6" cy="302.4" r="3.2" fill="url(#g_red)"/>
<circle cx="471" cy="298.3" r="3.2" fill="url(#g_red)"/>
<circle cx="473" cy="292.2" r="3.2" fill="url(#g_red)"/>
<circle cx="475.8" cy="286.2" r="3.2" fill="url(#g_red)"/>
<circle cx="477.2" cy="277" r="3.2" fill="url(#g_red)"/>
<circle cx="479.3" cy="269.9" r="3.2" fill="url(#g_red)"/>
<circle cx="481.9" cy="261.7" r="3.2" fill="url(#g_red)"/>
<circle cx="486" cy="255.2" r="3.2" fill="url(#g_red)"/>
<circle cx="501.3" cy="243.3" r="3.2" fill="url(#g_red)"/>
<circle cx="517" cy="240.9" r="3.2" fill="url(#g_red)"/>
<circle cx="533" cy="238.9" r="3.2" fill="url(#g_red)"/>
<circle cx="539.1" cy="240.3" r="3.2" fill="url(#g_red)"/>
<circle cx="539.1" cy="240.3" r="3.2" fill="url(#g_red)"/>
<circle cx="524.8" cy="239.3" r="3.2" fill="url(#g_red)"/>
<circle cx="484" cy="233.2" r="3.2" fill="url(#g_red)"/>
<circle cx="477.9" cy="234.8" r="3.2" fill="url(#g_red)"/>
<circle cx="471.7" cy="234.8" r="3.2" fill="url(#g_red)"/>
<circle cx="467.2" cy="236.8" r="3.2" fill="url(#g_red)"/>
<circle cx="463.6" cy="237.7" r="3.2" fill="url(#g_red)"/>
<circle cx="459.5" cy="238.3" r="3.2" fill="url(#g_red)"/>
<circle cx="455.4" cy="239.7" r="3.2" fill="url(#g_red)"/>
<circle cx="451.7" cy="242.3" r="3.2" fill="url(#g_red)"/>
<circle cx="447.2" cy="249.5" r="3.2" fill="url(#g_red)"/>
<circle cx="443.2" cy="274" r="3.2" fill="url(#g_red)"/>
<circle cx="440.4" cy="290.2" r="3.2" fill="url(#g_red)"/>
<circle cx="438.2" cy="297.3" r="3.2" fill="url(#g_red)"/>
<circle cx="435.3" cy="300.4" r="3.2" fill="url(#g_red)"/>
<circle cx="432.2" cy="303.5" r="3.2" fill="url(#g_red)"/>
<circle cx="429.2" cy="306.1" r="3.2" fill="url(#g_red)"/>
<circle cx="426.1" cy="308.6" r="3.2" fill="url(#g_red)"/>
<circle cx="423" cy="309.5" r="3.2" fill="url(#g_red)"/>
<circle cx="420" cy="310.6" r="3.2" fill="url(#g_red)"/>
<circle cx="417.3" cy="312.7" r="3.2" fill="url(#g_red)"/>
<circle cx="414.5" cy="315.7" r="3.2" fill="url(#g_red)"/>
<circle cx="411.8" cy="320.8" r="3.2" fill="url(#g_red)"/>
<circle cx="408.8" cy="326.5" r="3.2" fill="url(#g_red)"/>
<circle cx="405.7" cy="333.5" r="3.2" fill="url(#g_red)"/>
<circle cx="402.7" cy="342.2" r="3.2" fill="url(#g_red)"/>
<circle cx="401" cy="351.4" r="3.2" fill="url(#g_red)"/>
<circle cx="398.6" cy="359.6" r="3.2" fill="url(#g_red)"/>
<circle cx="396" cy="366.7" r="3.2" fill="url(#g_red)"/>
<circle cx="380" cy="382" r="3.2" fill="url(#g_red)"/>
<circle cx="371" cy="389" r="3.2" fill="url(#g_red)"/>
<circle cx="363" cy="386.4" r="3.2" fill="url(#g_red)"/>
<circle cx="355" cy="387" r="3.2" fill="url(#g_red)"/>
<circle cx="347" cy="387" r="3.2" fill="url(#g_red)"/>
<circle cx="382" cy="393" r="3.2" fill="url(#g_teal)"/>
<circle cx="396" cy="392.4" r="3.2" fill="url(#g_teal)"/>
<circle cx="400" cy="391.6" r="3.2" fill="url(#g_teal)"/>
<circle cx="404" cy="390" r="3.2" fill="url(#g_teal)"/>
<circle cx="407" cy="388.4" r="3.2" fill="url(#g_teal)"/>
<circle cx="411" cy="387" r="3.2" fill="url(#g_teal)"/>
<circle cx="415" cy="386.4" r="3.2" fill="url(#g_teal)"/>
<circle cx="418" cy="385" r="3.2" fill="url(#g_teal)"/>
<circle cx="421" cy="383.6" r="3.2" fill="url(#g_teal)"/>
<circle cx="424" cy="382" r="3.2" fill="url(#g_teal)"/>
<circle cx="428" cy="379.6" r="3.2" fill="url(#g_teal)"/>
<circle cx="430" cy="376" r="3.2" fill="url(#g_teal)"/>
<circle cx="432.4" cy="369" r="3.2" fill="url(#g_teal)"/>
<circle cx="434.4" cy="359" r="3.2" fill="url(#g_teal)"/>
<circle cx="436.9" cy="343.7" r="3.2" fill="url(#g_teal)"/>
<circle cx="439.4" cy="332" r="3.2" fill="url(#g_teal)"/>
<circle cx="441.8" cy="327.3" r="3.2" fill="url(#g_teal)"/>
<circle cx="445.1" cy="323.9" r="3.2" fill="url(#g_teal)"/>
<circle cx="448.6" cy="320.8" r="3.2" fill="url(#g_teal)"/>
<circle cx="451.6" cy="318.4" r="3.2" fill="url(#g_teal)"/>
<circle cx="455.3" cy="317.8" r="3.2" fill="url(#g_teal)"/>
<circle cx="458.8" cy="311.6" r="3.2" fill="url(#g_teal)"/>
<circle cx="461.8" cy="310.2" r="3.2" fill="url(#g_teal)"/>
<circle cx="464.9" cy="305.5" r="3.2" fill="url(#g_teal)"/>
<circle cx="467.6" cy="300.4" r="3.2" fill="url(#g_teal)"/>
<circle cx="470" cy="296.3" r="3.2" fill="url(#g_teal)"/>
<circle cx="472" cy="290.2" r="3.2" fill="url(#g_teal)"/>
<circle cx="474.8" cy="284.2" r="3.2" fill="url(#g_teal)"/>
<circle cx="476.2" cy="275" r="3.2" fill="url(#g_teal)"/>
<circle cx="478.3" cy="267.9" r="3.2" fill="url(#g_teal)"/>
<circle cx="480.9" cy="259.7" r="3.2" fill="url(#g_teal)"/>
<circle cx="485" cy="253.2" r="3.2" fill="url(#g_teal)"/>
<circle cx="500.3" cy="241.3" r="3.2" fill="url(#g_teal)"/>
<circle cx="517.7" cy="236.2" r="3.2" fill="url(#g_teal)"/>
<circle cx="534.6" cy="233.2" r="3.2" fill="url(#g_teal)"/>
<circle cx="540.1" cy="236.8" r="3.2" fill="url(#g_teal)"/>
<circle cx="540.1" cy="236.8" r="3.2" fill="url(#g_teal)"/>
<circle cx="525.2" cy="235.2" r="3.2" fill="url(#g_teal)"/>
<circle cx="510.5" cy="236.8" r="3.2" fill="url(#g_teal)"/>
<circle cx="495.8" cy="238.9" r="3.2" fill="url(#g_teal)"/>
<circle cx="483" cy="236.8" r="3.2" fill="url(#g_teal)"/>
<circle cx="478.9" cy="239.3" r="3.2" fill="url(#g_teal)"/>
<circle cx="474.8" cy="239.7" r="3.2" fill="url(#g_teal)"/>
<circle cx="470.7" cy="241.3" r="3.2" fill="url(#g_teal)"/>
<circle cx="466.6" cy="243" r="3.2" fill="url(#g_teal)"/>
<circle cx="462.6" cy="244.4" r="3.2" fill="url(#g_teal)"/>
<circle cx="458.5" cy="245.8" r="3.2" fill="url(#g_teal)"/>
<circle cx="454.4" cy="248.5" r="3.2" fill="url(#g_teal)"/>
<circle cx="450.3" cy="250.5" r="3.2" fill="url(#g_teal)"/>
<circle cx="448.3" cy="255.6" r="3.2" fill="url(#g_teal)"/>
<circle cx="444.8" cy="265.8" r="3.2" fill="url(#g_teal)"/>
<circle cx="442.6" cy="282.6" r="3.2" fill="url(#g_teal)"/>
<circle cx="440.3" cy="295" r="3.2" fill="url(#g_teal)"/>
<circle cx="437.3" cy="301.4" r="3.2" fill="url(#g_teal)"/>
<circle cx="434.3" cy="305.5" r="3.2" fill="url(#g_teal)"/>
<circle cx="431.2" cy="308.6" r="3.2" fill="url(#g_teal)"/>
<circle cx="428.2" cy="310.2" r="3.2" fill="url(#g_teal)"/>
<circle cx="425.1" cy="312.7" r="3.2" fill="url(#g_teal)"/>
<circle cx="422" cy="316.7" r="3.2" fill="url(#g_teal)"/>
<circle cx="419" cy="318.4" r="3.2" fill="url(#g_teal)"/>
<circle cx="415.9" cy="320.8" r="3.2" fill="url(#g_teal)"/>
<circle cx="412.9" cy="324.9" r="3.2" fill="url(#g_teal)"/>
<circle cx="409.8" cy="330" r="3.2" fill="url(#g_teal)"/>
<circle cx="406.7" cy="337.6" r="3.2" fill="url(#g_teal)"/>
<circle cx="404.7" cy="345.7" r="3.2" fill="url(#g_teal)"/>
<circle cx="402.2" cy="353.5" r="3.2" fill="url(#g_teal)"/>
<circle cx="400.2" cy="360.4" r="3.2" fill="url(#g_teal)"/>
<circle cx="398" cy="367" r="3.2" fill="url(#g_teal)"/>
<circle cx="394" cy="373.6" r="3.2" fill="url(#g_teal)"/>
<circle cx="378" cy="387" r="3.2" fill="url(#g_teal)"/>
<circle cx="365" cy="393" r="3.2" fill="url(#g_teal)"/>
<circle cx="361" cy="393.6" r="3.2" fill="url(#g_teal)"/>
<circle cx="348" cy="393.6" r="3.2" fill="url(#g_teal)"/>
<circle cx="344" cy="393.6" r="3.2" fill="url(#g_teal)"/>
<rect x="333.8" y="229.6" width="211" height="169.9" fill="none" stroke="#858585" stroke-width="1.1"/>
<path d="M337.45,399.5 v-2.4 M352.1,399.5 v-2.4 M366.75,399.5 v-2.4 M381.4,399.5 v-2.4 M396.05,399.5 v-2.4 M410.7,399.5 v-2.4 M425.35,399.5 v-2.4 M440,399.5 v-2.4 M454.65,399.5 v-2.4 M469.3,399.5 v-2.4 M483.95,399.5 v-2.4 M498.6,399.5 v-2.4 M513.25,399.5 v-2.4 M527.9,399.5 v-2.4 M542.55,399.5 v-2.4 M333.8,395.6 h2.6 M333.8,355.05 h2.6 M333.8,314.5 h2.6 M333.8,273.95 h2.6 M333.8,233.4 h2.6" stroke="#858585" stroke-width="1"/>
<g font-size="10.6" fill="#1a1a1a"><text x="351.8" y="413.2" text-anchor="middle">−300</text><text x="381.1" y="413.2" text-anchor="middle">−200</text><text x="410.4" y="413.2" text-anchor="middle">−100</text><text x="439.7" y="413.2" text-anchor="middle">0</text><text x="469" y="413.2" text-anchor="middle">100</text><text x="498.3" y="413.2" text-anchor="middle">200</text><text x="527.6" y="413.2" text-anchor="middle">300</text><text x="330" y="237.2" text-anchor="end" font-weight="bold">1</text><text x="330" y="318.8" text-anchor="end" font-weight="normal">0</text><text x="330" y="399.4" text-anchor="end" font-weight="normal">−<tspan font-weight="bold">1</tspan></text></g>
<text x="408.9" y="434.6" font-size="14.4" font-weight="bold" fill="#111" textLength="58" lengthAdjust="spacingAndGlyphs">Field (Oe)</text>
<g transform="translate(318.4,317.3) rotate(-90)" font-weight="bold" fill="#111"><text x="0" y="0" text-anchor="middle" font-size="13.4" textLength="23.6" lengthAdjust="spacingAndGlyphs">M/M</text><text x="12.4" y="3.9" font-size="10.4">s</text></g>
<line x1="439.2" y1="352" x2="461.2" y2="352" stroke="#f26b63" stroke-width="1.1"/>
<circle cx="449.4" cy="352" r="3.1" fill="url(#g_red)"/>
<text x="464" y="355.4" font-size="11.5" font-weight="bold" fill="#111" textLength="60" lengthAdjust="spacingAndGlyphs">bent 1 time</text>
<line x1="439.2" y1="361.2" x2="461.2" y2="361.2" stroke="#1f8fae" stroke-width="1.1"/>
<circle cx="449.4" cy="361.2" r="3.1" fill="url(#g_teal)"/>
<text x="464" y="364.6" font-size="11.5" font-weight="bold" fill="#111" textLength="79" lengthAdjust="spacingAndGlyphs">bent 100 times</text>
<text x="348.6" y="246.8" font-size="10.3" font-weight="bold" fill="#111" textLength="57.5" lengthAdjust="spacingAndGlyphs">K= 1/5 mm</text>
<text x="406.4" y="241.6" font-size="7.4" fill="#111">−<tspan font-weight="bold">1</tspan></text>
<text transform="translate(282,239.25) scale(0.78,1)" text-anchor="middle" font-size="25.2" fill="#111">(</text>
<text transform="translate(291,239.5) scale(0.78,1)" text-anchor="middle" font-size="24" fill="#111">d</text>
<text transform="translate(301.4,239.25) scale(0.78,1)" text-anchor="middle" font-size="25.2" fill="#111">)</text>
<g transform="translate(345.5,260.5)">
<path d="M50.1,6.3 C57,9 64,13 69.7,18.6 C65,17.2 59,14.2 50.1,8.9 Z" fill="url(#rib_red_d)"/>
<path d="M0.1,15 C4,8 14,2 30.4,0.3 C38,0 46,3 50.9,6.3 L50.1,6.8 C45,5.5 40,5 37,5.8 C32,8 28,10.5 25.5,12.1 C21,15.5 16,20 12.4,23.5 Z" fill="url(#rib_top_d)"/>
<path d="M0.1,15 C4,8 14,2 30.4,0.3 C38,0 46,3 50.9,6.3 L50.1,6.8 C45,5.5 40,5 37,5.8 C32,8 28,10.5 25.5,12.1 C21,15.5 16,20 12.4,23.5 Z" fill="url(#rib_blue_d)"/>
<path d="M12.4,23.5 C16,20 21,15.5 25.5,12.1 C28,10.5 32,8 37,5.8 C40,5 45,5.5 50.1,6.8" fill="none" stroke="#ef6a62" stroke-width="1.2"/>
</g>
</svg></body></html>
